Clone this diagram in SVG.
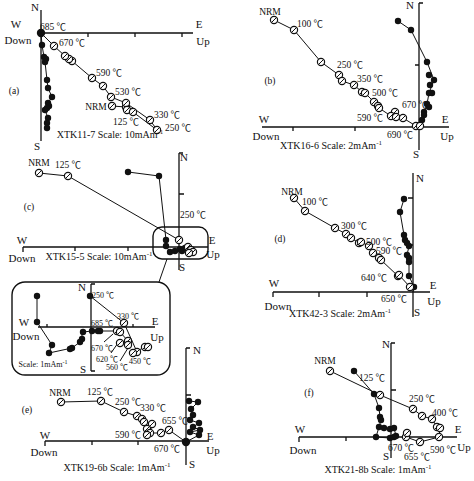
<svg xmlns="http://www.w3.org/2000/svg" xmlns:xlink="http://www.w3.org/1999/xlink" width="474" height="481" viewBox="0 0 474 481">
<style>
text{font-family:"Liberation Serif","Noto Sans CJK SC",serif;font-size:9.5px;fill:#111;text-anchor:middle}
.ax{font-size:11px}
.cap{font-size:10px}
.sm{font-size:8px}
.axis{stroke:#111;stroke-width:1.3;fill:none}
.d{stroke:#111;stroke-width:1;fill:none}
.box{stroke:#111;stroke-width:1.4;fill:none}
</style>
<defs>
<g id="o"><circle r="3.6" fill="#fff" stroke="#111" stroke-width="1.2"/><path d="M-2.3,2.3L2.3,-2.3" stroke="#111" stroke-width="1"/></g>
<circle id="f" r="3.2" fill="#111"/>
<circle id="F" r="4.2" fill="#111"/>
</defs>
<rect width="474" height="481" fill="#fff"/>

<!-- (a) -->
<g id="panel-a">
<path class="axis" d="M41,10V141M40,33H193M88,33v4M135,33v4M182,33v4"/>
<polyline class="d" points="112,106 126,107 133,112 157,130 150,120 126,103 111,97 103,86 92,78 72,61 65,56 54,46 41,33"/>
<polyline class="d" points="41,33 42,45 44,57 46,59 45,62 47,80 48,88 52,97 48,103 49,106 47,108 45,110 48,118 47,123 47,128"/>
<g>
<use xlink:href="#f" x="42" y="45"/><use xlink:href="#f" x="44" y="57"/><use xlink:href="#f" x="46" y="59"/><use xlink:href="#f" x="45" y="62"/><use xlink:href="#f" x="47" y="80"/><use xlink:href="#f" x="48" y="88"/><use xlink:href="#f" x="52" y="97"/><use xlink:href="#f" x="48" y="103"/><use xlink:href="#f" x="49" y="106"/><use xlink:href="#f" x="47" y="108"/><use xlink:href="#f" x="45" y="110"/><use xlink:href="#f" x="48" y="118"/><use xlink:href="#f" x="47" y="123"/><use xlink:href="#f" x="47" y="128"/>
<use xlink:href="#F" x="41" y="33"/>
</g>
<g>
<use xlink:href="#o" x="112" y="106"/><use xlink:href="#o" x="126" y="107"/><use xlink:href="#o" x="126" y="103"/><use xlink:href="#o" x="127" y="110"/><use xlink:href="#o" x="133" y="112"/><use xlink:href="#o" x="150" y="120"/><use xlink:href="#o" x="157" y="130"/><use xlink:href="#o" x="111" y="97"/><use xlink:href="#o" x="103" y="86"/><use xlink:href="#o" x="92" y="78"/><use xlink:href="#o" x="72" y="61"/><use xlink:href="#o" x="69" y="59"/><use xlink:href="#o" x="65" y="56"/><use xlink:href="#o" x="54" y="46"/>
</g>
<text class="ax" x="35" y="11">N</text><text class="ax" x="37" y="150">S</text>
<text class="ax" x="16" y="28">W</text><text class="ax" x="199" y="28">E</text>
<text class="ax" x="18" y="44">Down</text><text class="ax" x="203" y="45">Up</text>
<text x="14" y="94">(a)</text>
<text x="53" y="30">685 ℃</text><text x="72" y="46">670 ℃</text><text x="109" y="76">590 ℃</text><text x="128" y="95">530 ℃</text>
<text x="96" y="110">NRM</text><text x="126" y="125">125 ℃</text><text x="167" y="118">330 ℃</text><text x="178" y="131">250 ℃</text>
<text class="cap" x="110" y="138">XTK11-7 Scale: 10mAm<tspan dy="-4" font-size="7">-1</tspan></text>
</g>

<!-- (b) -->
<g id="panel-b">
<path class="axis" d="M419,3V150M419,3h4M419,65h-4M262,127H449M293,127v4M355,127v4"/>
<polyline class="d" points="274,20 294,30 321,62 339,75 342,81 354,85 362,92 365,93 374,102 379,108 391,116 395,112 396,117 403,118 416,126 420,126"/>
<polyline class="d" points="398,21 411,30 427,62 434,80 429,93 427,104 424,112 422,120 419,127"/>
<g>
<use xlink:href="#f" x="398" y="21"/><use xlink:href="#f" x="411" y="30"/><use xlink:href="#f" x="427" y="62"/><use xlink:href="#f" x="429" y="75"/><use xlink:href="#f" x="434" y="80"/><use xlink:href="#f" x="430" y="85"/><use xlink:href="#f" x="429" y="93"/><use xlink:href="#f" x="432" y="93"/><use xlink:href="#f" x="427" y="104"/><use xlink:href="#f" x="429" y="107"/><use xlink:href="#f" x="424" y="112"/><use xlink:href="#f" x="424" y="115"/><use xlink:href="#f" x="422" y="120"/><use xlink:href="#f" x="420" y="125"/>
</g>
<g>
<use xlink:href="#o" x="274" y="20"/><use xlink:href="#o" x="294" y="30"/><use xlink:href="#o" x="321" y="62"/><use xlink:href="#o" x="339" y="75"/><use xlink:href="#o" x="342" y="81"/><use xlink:href="#o" x="354" y="85"/><use xlink:href="#o" x="362" y="92"/><use xlink:href="#o" x="365" y="93"/><use xlink:href="#o" x="374" y="102"/><use xlink:href="#o" x="378" y="106"/><use xlink:href="#o" x="379" y="108"/><use xlink:href="#o" x="395" y="112"/><use xlink:href="#o" x="391" y="116"/><use xlink:href="#o" x="396" y="117"/><use xlink:href="#o" x="403" y="118"/><use xlink:href="#o" x="416" y="126"/><use xlink:href="#o" x="420" y="126"/>
</g>
<text class="ax" x="410" y="9">N</text><text class="ax" x="416" y="158">S</text>
<text class="ax" x="264" y="123">W</text><text class="ax" x="445" y="123">E</text>
<text class="ax" x="266" y="140">Down</text><text class="ax" x="447" y="140">Up</text>
<text x="270" y="84">(b)</text>
<text x="270" y="15">NRM</text><text x="310" y="27">100 ℃</text><text x="350" y="68">250 ℃</text><text x="370" y="82">350 ℃</text><text x="385" y="96">500 ℃</text><text x="415" y="108">670 ℃</text><text x="370" y="121">590 ℃</text><text x="400" y="138">690 ℃</text>
<text class="cap" x="331" y="149">XTK16-6 Scale: 2mAm<tspan dy="-4" font-size="7">-1</tspan></text>
</g>

<!-- (c) -->
<g id="panel-c">
<path class="axis" d="M179,153V270M179,153h4M179,194h5M23,247H208M23,247v5M75,247v4M128,247v4"/>
<polyline class="d" points="39,173 68,176 179,240"/>
<polyline class="d" points="128,172 159,176 166,240 166,246 170,252 175,251 180,249 185,248"/>
<polyline class="d" points="188,247 191,250 193,252 189,253"/>
<g>
<use xlink:href="#f" x="128" y="172"/><use xlink:href="#f" x="159" y="176"/><use xlink:href="#f" x="166" y="240"/><use xlink:href="#f" x="166" y="246"/><use xlink:href="#f" x="170" y="252"/><use xlink:href="#f" x="175" y="251"/><use xlink:href="#f" x="180" y="249"/><use xlink:href="#f" x="185" y="248"/><use xlink:href="#f" x="182" y="251"/>
</g>
<g>
<use xlink:href="#o" x="39" y="173"/><use xlink:href="#o" x="68" y="176"/><use xlink:href="#o" x="179" y="240"/><use xlink:href="#o" x="188" y="247"/><use xlink:href="#o" x="191" y="250"/><use xlink:href="#o" x="193" y="252"/><use xlink:href="#o" x="189" y="253"/>
</g>
<rect class="box" x="153" y="227" width="55" height="32" rx="9"/>
<path class="d" d="M167,259L159,282" stroke-width="1.3"/>
<text class="ax" x="184" y="161">N</text><text class="ax" x="182" y="271">S</text>
<text class="ax" x="22" y="244">W</text><text class="ax" x="212" y="244">E</text>
<text class="ax" x="22" y="262">Down</text><text class="ax" x="213" y="258">Up</text>
<text x="29" y="210">(c)</text>
<text x="39" y="166">NRM</text><text x="68" y="168">125 ℃</text><text x="193" y="218">250 ℃</text>
<text class="cap" x="99" y="260">XTK15-5 Scale: 10mAm<tspan dy="-4" font-size="7">-1</tspan></text>
</g>

<!-- inset of (c) -->
<g id="inset-c">
<rect class="box" x="12" y="282" width="158" height="93" rx="13"/>
<path class="axis" d="M91,284V371M91,284h4M91,371h4M38,327H155M47,327v-3M133,327v-3"/>
<polyline class="d" points="90,296 124,323 137,352 133,353 145,347 148,347"/>
<polyline class="d" points="118,331 120,332 128,341 120,343 128,345"/>
<polyline class="d" points="37,296 37,322 52,345 49,353 72,348 80,342 83,332 92,331 100,331 117,331"/>
<path class="d" d="M104,342L113,334M111,353L118,343M120,361L128,348M139,355L137,353" stroke-width="0.8"/>
<g>
<use xlink:href="#f" x="37" y="296"/><use xlink:href="#f" x="37" y="322"/><use xlink:href="#f" x="52" y="345"/><use xlink:href="#f" x="49" y="353"/><use xlink:href="#f" x="72" y="348"/><use xlink:href="#f" x="70" y="349"/><use xlink:href="#f" x="80" y="342"/><use xlink:href="#f" x="82" y="339"/><use xlink:href="#f" x="83" y="332"/><use xlink:href="#f" x="92" y="331"/><use xlink:href="#f" x="100" y="331"/><use xlink:href="#f" x="98" y="331"/><use xlink:href="#f" x="90" y="296"/>
</g>
<g>
<use xlink:href="#o" x="124" y="323"/><use xlink:href="#o" x="117" y="331"/><use xlink:href="#o" x="120" y="332"/><use xlink:href="#o" x="128" y="341"/><use xlink:href="#o" x="120" y="343"/><use xlink:href="#o" x="128" y="345"/><use xlink:href="#o" x="137" y="352"/><use xlink:href="#o" x="133" y="353"/><use xlink:href="#o" x="145" y="347"/><use xlink:href="#o" x="148" y="347"/>
</g>
<text class="ax" x="82" y="291">N</text><text class="ax" x="83" y="373">S</text>
<text class="ax" x="24" y="326">W</text><text class="ax" x="155" y="325">E</text>
<text class="ax" x="26" y="340">Down</text><text class="ax" x="157" y="341">Up</text>
<text class="sm" x="103" y="298">250 ℃</text><text class="sm" x="128" y="319">330 ℃</text><text class="sm" x="102" y="326">685 ℃</text>
<text class="sm" x="102" y="351">670 ℃</text><text class="sm" x="107" y="362">620 ℃</text><text class="sm" x="117" y="370">560 ℃</text><text class="sm" x="140" y="364">450 ℃</text>
<text class="sm" x="43" y="367">Scale: 1mAm<tspan dy="-3" font-size="6">-1</tspan></text>
</g>

<!-- (e) -->
<g id="panel-e">
<path class="axis" d="M186,348V465M186,348h4M186,395h5M45,441H209M45,441v5M92,441v4M138,441v4"/>
<polyline class="d" points="61,402 101,401 124,412 137,416 142,419 144,422 147,429 152,424 150,433 161,433 169,430 186,442"/>
<polyline class="d" points="189,401 198,402 191,409 193,415 190,420 199,423 193,427 200,430 190,432 199,435 186,442"/>
<g>
<use xlink:href="#f" x="189" y="401"/><use xlink:href="#f" x="198" y="402"/><use xlink:href="#f" x="191" y="409"/><use xlink:href="#f" x="193" y="415"/><use xlink:href="#f" x="190" y="420"/><use xlink:href="#f" x="199" y="423"/><use xlink:href="#f" x="193" y="427"/><use xlink:href="#f" x="200" y="430"/><use xlink:href="#f" x="190" y="432"/><use xlink:href="#f" x="199" y="435"/><use xlink:href="#F" x="186" y="442"/>
</g>
<g>
<use xlink:href="#o" x="61" y="402"/><use xlink:href="#o" x="101" y="401"/><use xlink:href="#o" x="124" y="412"/><use xlink:href="#o" x="137" y="416"/><use xlink:href="#o" x="142" y="419"/><use xlink:href="#o" x="144" y="422"/><use xlink:href="#o" x="152" y="424"/><use xlink:href="#o" x="147" y="429"/><use xlink:href="#o" x="150" y="433"/><use xlink:href="#o" x="147" y="435"/><use xlink:href="#o" x="161" y="433"/><use xlink:href="#o" x="169" y="430"/>
</g>
<text class="ax" x="197" y="354">N</text><text class="ax" x="192" y="468">S</text>
<text class="ax" x="45" y="439">W</text><text class="ax" x="210" y="440">E</text>
<text class="ax" x="44" y="456">Down</text><text class="ax" x="213" y="454">Up</text>
<text x="27" y="413">(e)</text>
<text x="60" y="396">NRM</text><text x="100" y="395">125 ℃</text><text x="128" y="405">250 ℃</text><text x="153" y="411">330 ℃</text><text x="175" y="424">655 ℃</text><text x="128" y="438">590 ℃</text><text x="167" y="452">670 ℃</text>
<text class="cap" x="117" y="471">XTK19-6b Scale: 1mAm<tspan dy="-4" font-size="7">-1</tspan></text>
</g>

<!-- (d) -->
<g id="panel-d">
<path class="axis" d="M413,173V317M413,198h-5M413,245h-5M273,292H430M273,292v5M319,292v5M367,292v5"/>
<polyline class="d" points="294,198 305,211 335,228 346,234 351,238 359,243 361,242 369,246 373,253 379,258 381,260 398,276 399,275 410,287"/>
<polyline class="d" points="404,199 400,212 404,235 405,240 407,243 409,246 407,255 409,258 409,276 414,287 413,292"/>
<g>
<use xlink:href="#f" x="404" y="199"/><use xlink:href="#f" x="400" y="212"/><use xlink:href="#f" x="404" y="235"/><use xlink:href="#f" x="405" y="240"/><use xlink:href="#f" x="407" y="243"/><use xlink:href="#f" x="409" y="246"/><use xlink:href="#f" x="407" y="255"/><use xlink:href="#f" x="409" y="258"/><use xlink:href="#f" x="409" y="262"/><use xlink:href="#f" x="409" y="276"/><use xlink:href="#f" x="414" y="287"/>
</g>
<g>
<use xlink:href="#o" x="294" y="198"/><use xlink:href="#o" x="305" y="211"/><use xlink:href="#o" x="335" y="228"/><use xlink:href="#o" x="346" y="234"/><use xlink:href="#o" x="351" y="238"/><use xlink:href="#o" x="359" y="243"/><use xlink:href="#o" x="361" y="242"/><use xlink:href="#o" x="369" y="246"/><use xlink:href="#o" x="373" y="253"/><use xlink:href="#o" x="379" y="258"/><use xlink:href="#o" x="381" y="260"/><use xlink:href="#o" x="398" y="276"/><use xlink:href="#o" x="399" y="275"/><use xlink:href="#o" x="410" y="287"/>
</g>
<text class="ax" x="420" y="182">N</text><text class="ax" x="417" y="316">S</text>
<text class="ax" x="274" y="287">W</text><text class="ax" x="433" y="289">E</text>
<text class="ax" x="278" y="310">Down</text><text class="ax" x="434" y="305">Up</text>
<text x="280" y="242">(d)</text>
<text x="292" y="195">NRM</text><text x="315" y="205">100 ℃</text><text x="354" y="229">300 ℃</text><text x="379" y="245">500 ℃</text><text x="389" y="254">590 ℃</text><text x="374" y="281">640 ℃</text><text x="394" y="302">650 ℃</text>
<text class="cap" x="340" y="317">XTK42-3 Scale: 2mAm<tspan dy="-4" font-size="7">-1</tspan></text>
</g>

<!-- (f) -->
<g id="panel-f">
<path class="axis" d="M391,343V458M391,343h4M391,390h5M299,437H457M299,437v5M346,437v4"/>
<polyline class="d" points="330,371 380,395 413,409 422,416 432,419 437,427 440,428 439,437 420,442 406,437 407,433"/>
<polyline class="d" points="354,371 374,394 379,408 380,417 381,420 379,427 384,428 390,429 394,428 396,436 394,437 390,438 376,437 379,427"/>
<g>
<use xlink:href="#f" x="354" y="371"/><use xlink:href="#f" x="374" y="394"/><use xlink:href="#f" x="379" y="408"/><use xlink:href="#f" x="380" y="417"/><use xlink:href="#f" x="381" y="420"/><use xlink:href="#f" x="379" y="427"/><use xlink:href="#f" x="384" y="428"/><use xlink:href="#f" x="390" y="429"/><use xlink:href="#f" x="394" y="428"/><use xlink:href="#f" x="376" y="437"/><use xlink:href="#f" x="390" y="438"/><use xlink:href="#f" x="394" y="437"/><use xlink:href="#f" x="396" y="436"/>
</g>
<g>
<use xlink:href="#o" x="330" y="371"/><use xlink:href="#o" x="380" y="395"/><use xlink:href="#o" x="413" y="409"/><use xlink:href="#o" x="422" y="416"/><use xlink:href="#o" x="432" y="419"/><use xlink:href="#o" x="437" y="427"/><use xlink:href="#o" x="440" y="428"/><use xlink:href="#o" x="439" y="437"/><use xlink:href="#o" x="420" y="442"/><use xlink:href="#o" x="406" y="437"/><use xlink:href="#o" x="407" y="433"/>
</g>
<text class="ax" x="386" y="348">N</text><text class="ax" x="386" y="460">S</text>
<text class="ax" x="300" y="433">W</text><text class="ax" x="458" y="433">E</text>
<text class="ax" x="303" y="454">Down</text><text class="ax" x="464" y="451">Up</text>
<text x="309" y="396">(f)</text>
<text x="325" y="364">NRM</text><text x="372" y="381">125 ℃</text><text x="422" y="402">250 ℃</text><text x="445" y="416">400 ℃</text><text x="401" y="451">670 ℃</text><text x="417" y="460">655 ℃</text><text x="443" y="453">590 ℃</text>
<text class="cap" x="378" y="473">XTK21-8b Scale: 1mAm<tspan dy="-4" font-size="7">-1</tspan></text>
</g>
</svg>
